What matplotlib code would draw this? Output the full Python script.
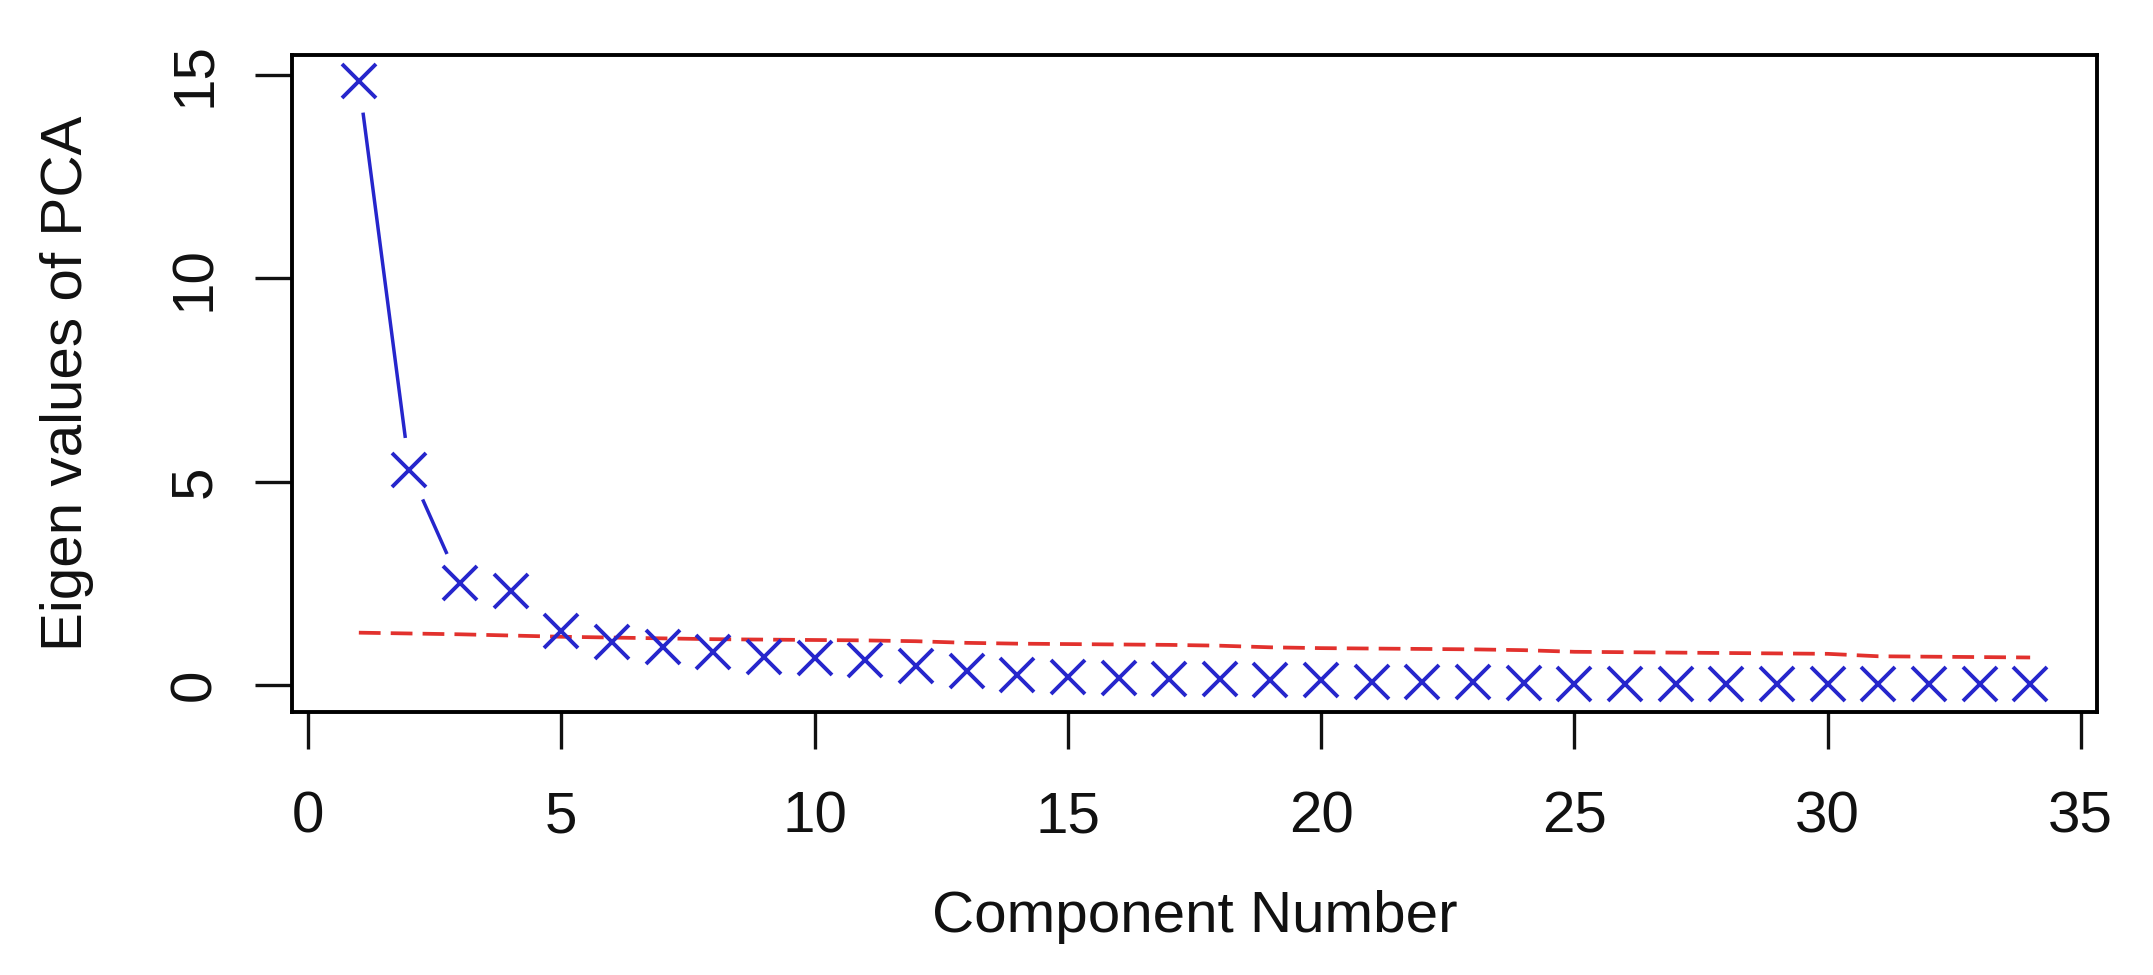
import numpy as np
import matplotlib
matplotlib.use('Agg')
import matplotlib.pyplot as plt

plt.rcParams['font.family'] = ['Liberation Sans', 'DejaVu Sans']

# component numbers and eigenvalues
components = list(range(1, 35))
eigen_values = [14.86, 5.29, 2.50, 2.32, 1.34, 1.05, 0.93, 0.81, 0.68, 0.66,
                0.61, 0.47, 0.35, 0.24, 0.19, 0.17, 0.16, 0.15, 0.12, 0.12,
                0.08, 0.08, 0.08, 0.06, 0.04, 0.04, 0.02, 0.02, 0.02, 0.02,
                0.02, 0.02, 0.02, 0.02]
# parallel analysis threshold (red dashed line)
pa_values = [1.29, 1.27, 1.25, 1.22, 1.19, 1.17, 1.15, 1.13, 1.12, 1.11,
             1.10, 1.08, 1.04, 1.02, 1.01, 1.00, 0.99, 0.97, 0.93, 0.91,
             0.90, 0.89, 0.88, 0.86, 0.82, 0.81, 0.80, 0.79, 0.78, 0.77,
             0.71, 0.70, 0.69, 0.68]
x_ticks = [0, 5, 10, 15, 20, 25, 30, 35]
y_ticks = [0, 5, 10, 15]

W, H = 2153, 975
blue = '#2626cc'
red = '#e2312d'

fig = plt.figure(figsize=(W / 100, H / 100), dpi=100)
ax = fig.add_axes([292 / W, 1 - 712 / H, (2097 - 292) / W, (712 - 55) / H])
ax.set_xlim(-0.32, 35.32)
ax.set_ylim(-0.66, 15.49)

# red dashed line
ax.plot(components, pa_values, color=red, lw=2.7, dashes=(5.8, 2.7))

# R type="b": line segments with gaps around the points
gap = 34
pix = ax.transData.transform(np.column_stack([components, eigen_values]))
inv = ax.transData.inverted()
for i in range(len(pix) - 1):
    p0, p1 = pix[i], pix[i + 1]
    d = p1 - p0
    L = np.hypot(*d)
    if L > 2 * gap:
        a = inv.transform(p0 + d / L * gap)
        b = inv.transform(p1 - d / L * gap)
        ax.plot([a[0], b[0]], [a[1], b[1]], color=blue, lw=2.5)

ax.plot(components, eigen_values, ls='none', marker='x', ms=25, mew=2.8,
        color=blue)

for s in ax.spines.values():
    s.set_linewidth(2.8)
ax.set_xticks(x_ticks)
ax.set_yticks(y_ticks)
ax.set_yticklabels([str(v) for v in y_ticks], rotation=90, va='center')
ax.tick_params(axis='both', length=26.5, width=2.4, labelsize=42,
               colors='#111111')
ax.tick_params(axis='x', pad=30)
ax.tick_params(axis='y', pad=24)

fig.text((292 + 2097) / 2 / W, 1 - 932 / H, 'Component Number',
         ha='center', va='baseline', fontsize=42, color='#111111')
fig.text(67 / W, 1 - 383.5 / H, 'Eigen values of PCA', rotation=90,
         ha='center', va='center', fontsize=42, color='#111111')

fig.savefig('out.png', dpi=100)
